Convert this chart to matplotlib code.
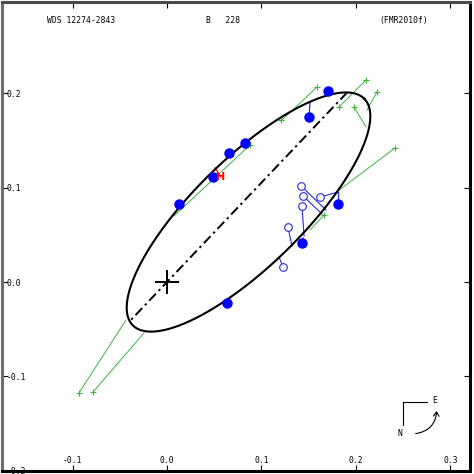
import numpy as np
import matplotlib
matplotlib.use("Agg")
import matplotlib.pyplot as plt
from matplotlib.patches import FancyArrowPatch

# orbit ellipse (apparent), arcsec
orbit_cx, orbit_cy = 0.0863, 0.0742
orbit_a, orbit_b = 0.1716, 0.0572
orbit_angle = 44.4
node_angle = 46.5

# filled blue: observed -> predicted
blue_x = [0.0127, 0.0487, 0.0656, 0.0826, 0.1705, 0.1503, 0.1810, 0.1429, 0.0635]
blue_y = [0.0827, 0.1113, 0.1368, 0.1474, 0.2025, 0.1750, 0.0827, 0.0414, -0.0223]
blue_px = [0.0106, 0.0466, 0.0646, 0.0815, 0.1673, 0.1514, 0.1810, 0.1440, 0.0625]
blue_py = [0.0859, 0.1145, 0.1400, 0.1506, 0.1994, 0.1898, 0.0954, 0.0467, -0.0191]

# open blue circles
open_x = [0.1419, 0.1620, 0.1440, 0.1429, 0.1281, 0.1228]
open_y = [0.1018, 0.0901, 0.0912, 0.0806, 0.0583, 0.0159]
open_px = [0.1683, 0.1810, 0.1641, 0.1451, 0.1323, 0.1186]
open_py = [0.0764, 0.0954, 0.0721, 0.0488, 0.0382, 0.0265]

# green crosses
green_x = [-0.0932, -0.0783, 0.2414, 0.1662, 0.0879, 0.1588, 0.1207, 0.2107, 0.1821, 0.2223, 0.1980]
green_y = [-0.1177, -0.1166, 0.1421, 0.0711, 0.1453, 0.2068, 0.1718, 0.2142, 0.1856, 0.2015, 0.1856]
green_px = [-0.0434, -0.0244, 0.1810, 0.1514, 0.0074, 0.1207, 0.1207, 0.1821, 0.1821, 0.2117, 0.2107]
green_py = [-0.0403, -0.0541, 0.0965, 0.0551, 0.0700, 0.1707, 0.1707, 0.1856, 0.1856, 0.1824, 0.1644]

# Hipparcos
hip_x, hip_y = 0.0572, 0.1113
hip_px, hip_py = 0.0508, 0.1209

xticks = [-0.1, 0.0, 0.1, 0.2, 0.3]
yticks = [-0.2, -0.1, 0.0, 0.1, 0.2]

mono = "DejaVu Sans Mono"
fs = 5.8

fig = plt.figure(figsize=(4.74, 4.74), dpi=100)
ax = fig.add_axes([2 / 474, 3 / 474, 468 / 474, 469 / 474])
ax.set_xlim(-0.1747, 0.3208)
ax.set_ylim(-0.2004, 0.2969)

# ellipse
t = np.linspace(0, 2 * np.pi, 500)
th = np.radians(orbit_angle)
ex = orbit_cx + orbit_a * np.cos(t) * np.cos(th) - orbit_b * np.sin(t) * np.sin(th)
ey = orbit_cy + orbit_a * np.cos(t) * np.sin(th) + orbit_b * np.sin(t) * np.cos(th)
ax.plot(ex, ey, color="black", lw=1.5, zorder=4)

# line of nodes: chord through the primary
ph = np.radians(node_angle)
d = np.array([np.cos(ph), np.sin(ph)])
rot = np.array([[np.cos(th), np.sin(th)], [-np.sin(th), np.cos(th)]])
du = rot @ d
pu = rot @ np.array([-orbit_cx, -orbit_cy])
qa = du[0] ** 2 / orbit_a ** 2 + du[1] ** 2 / orbit_b ** 2
qb = 2 * (pu[0] * du[0] / orbit_a ** 2 + pu[1] * du[1] / orbit_b ** 2)
qc = pu[0] ** 2 / orbit_a ** 2 + pu[1] ** 2 / orbit_b ** 2 - 1
roots = np.roots([qa, qb, qc]).real
ax.plot(roots * d[0], roots * d[1], color="black", lw=1.4,
        linestyle=(0, (5, 2, 1.2, 2)), zorder=3)

# primary
ax.plot([0], [0], marker="+", color="black", markersize=17, mew=1.4, zorder=5)

# green measures
for x0, y0, x1, y1 in zip(green_x, green_y, green_px, green_py):
    ax.plot([x0, x1], [y0, y1], color="#3cb43c", lw=0.7, zorder=2)
ax.plot(green_x, green_y, "+", color="#3cb43c", markersize=4.5, mew=0.8, zorder=2)

# open circles
for x0, y0, x1, y1 in zip(open_x, open_y, open_px, open_py):
    ax.plot([x0, x1], [y0, y1], color="#2a2ae0", lw=0.8, zorder=2)
ax.plot(open_x, open_y, "o", mfc="white", mec="#2a2ae0", markersize=5.5, mew=0.8, zorder=3)

# filled circles
for x0, y0, x1, y1 in zip(blue_x, blue_y, blue_px, blue_py):
    ax.plot([x0, x1], [y0, y1], color="#2a2ae0", lw=0.9, zorder=2)
ax.plot(blue_x, blue_y, "o", color="#0000ff", markersize=6.5, zorder=6)

# Hipparcos
ax.plot([hip_x, hip_px], [hip_y, hip_py], color="red", lw=0.9, zorder=2)
ax.text(hip_x, hip_y, "H", color="red", fontsize=8, fontweight="bold",
        ha="center", va="center", zorder=7)

# frame and ticks
ax.set_xticks(xticks)
ax.set_yticks(yticks)
ax.set_xticklabels(["%.1f" % v for v in xticks], family=mono, fontsize=fs)
ax.set_yticklabels(["%.1f" % v for v in yticks], family=mono, fontsize=fs)
ax.tick_params(direction="in", length=4, width=0.8, top=True, right=True)
ax.tick_params(axis="x", pad=-4.5)
ax.tick_params(axis="y", pad=-3.5)
for lab in ax.get_yticklabels():
    lab.set_horizontalalignment("left")
for lab in ax.get_xticklabels():
    lab.set_verticalalignment("bottom")
ax.spines["left"].set_color("#6e6e6e")
ax.spines["top"].set_color("#4a4a4a")
ax.spines["right"].set_color("black")
ax.spines["bottom"].set_color("black")
for s in ax.spines.values():
    s.set_linewidth(2.2)

# header
ax.text(0.0962, 0.9616, "WDS 12274-2843", transform=ax.transAxes, family=mono,
        fontsize=fs, va="center", ha="left")
ax.text(0.436, 0.9616, "B   228", transform=ax.transAxes, family=mono,
        fontsize=fs, va="center", ha="left")
ax.text(0.8056, 0.9616, "(FMR2010f)", transform=ax.transAxes, family=mono,
        fontsize=fs, va="center", ha="left")

# compass
ax.plot([0.857, 0.908], [0.147, 0.147], color="black", lw=0.8, transform=ax.transAxes)
ax.plot([0.857, 0.857], [0.147, 0.098], color="black", lw=0.8, transform=ax.transAxes)
ax.text(0.924, 0.150, "E", transform=ax.transAxes, family=mono, fontsize=fs,
        ha="center", va="center")
ax.text(0.851, 0.081, "N", transform=ax.transAxes, family=mono, fontsize=fs,
        ha="center", va="center")
arc = FancyArrowPatch((0.878, 0.079), (0.929, 0.134), transform=ax.transAxes,
                      connectionstyle="arc3,rad=0.45", arrowstyle="->,head_length=3,head_width=2",
                      color="black", lw=0.8)
ax.add_patch(arc)

fig.savefig("out.png", dpi=100)
